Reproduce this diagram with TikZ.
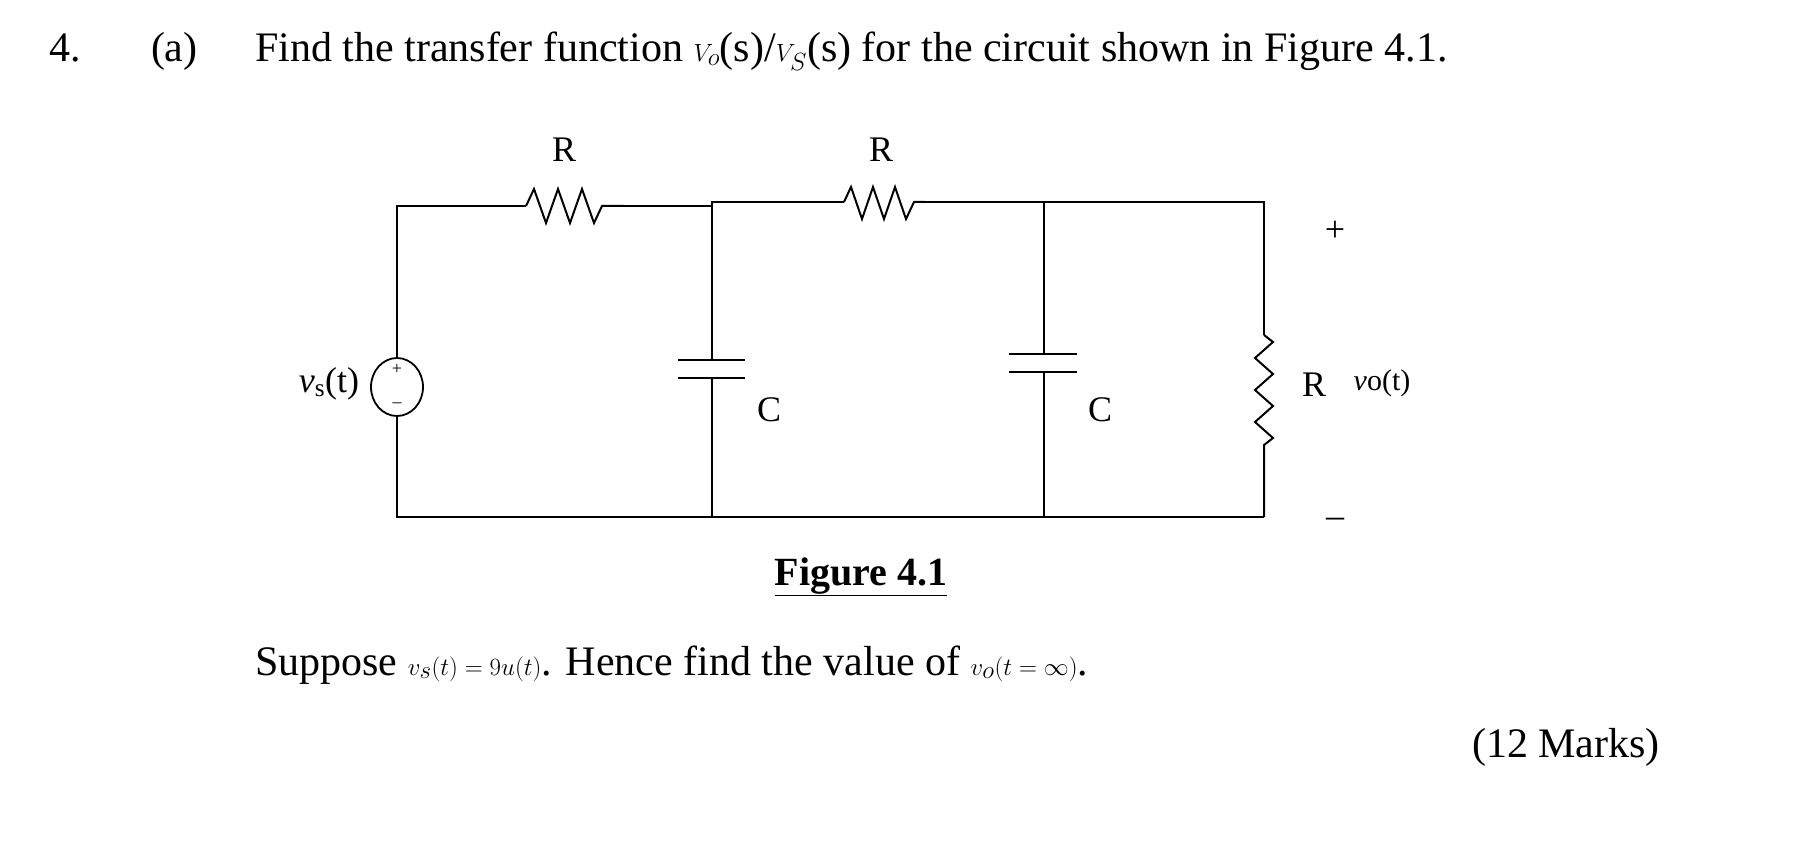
\documentclass[tikz,border=0pt]{standalone}
\usepackage{fontspec}
\setmainfont{Liberation Serif}
\usetikzlibrary{shapes.geometric}
\DeclareMathSizes{42}{42}{29}{22}
\begin{document}
\begin{tikzpicture}[x=1pt,y=-1pt,line width=2pt,
  txt/.style={inner sep=0pt,font=\fontsize{42}{48}\selectfont},
  lbl/.style={inner sep=0pt,font=\fontsize{36}{42}\selectfont}]
\useasboundingbox (0,0) rectangle (1804,842);
% texts
\node[txt,anchor=base west] (n4) at (48,62) {4.};
\node[txt,anchor=base west] (na) at (150,62) {(a)};
\node[txt,anchor=base west] (t1) at (254,62) {Find the transfer function $V_o$(s)/$V_S$(s) for the circuit shown in Figure 4.1.};
\node[txt,anchor=base,font=\fontsize{40}{46}\selectfont\bfseries] (fig) at (861,585) {\underline{Figure 4.1}};
\node[txt,anchor=base west] (sup) at (254,675) {Suppose $v_s(t)=9u(t)$. Hence find the value of $v_o(t=\infty)$.};
\node[txt,anchor=base] (mk) at (1566,757) {(12 Marks)};
% labels
\node[lbl] (r1l) at (564,150) {R};
\node[lbl] (r2l) at (881,150) {R};
\node[lbl] (c1l) at (769,410) {C};
\node[lbl] (c2l) at (1100,410) {C};
\node[lbl] (r3l) at (1314,385) {R};
\node[lbl] (vol) at (1382,383) {\fontsize{30}{36}\selectfont\textit{v}o(t)};
\node[lbl] (pl) at (1335,231) {+};
\node[lbl] (mi) at (1335,523) {--};
\node[lbl] (vsl) at (329,384) {\textit{v}\textsubscript{s}(t)};
% source
\node[draw,ellipse,minimum width=52,minimum height=58,inner sep=0pt,line width=1.8pt] (src) at (397,387) {};
\node[inner sep=0pt,font=\fontsize{18}{20}\selectfont] (sp) at (397,369) {+};
\node[inner sep=0pt,font=\fontsize{18}{20}\selectfont] (sm) at (397,405) {--};
% wiring coordinates
\coordinate (tl) at (397,206);
\coordinate (r1a) at (526,206);
\coordinate (r1b) at (624,206);
\coordinate (n1) at (712,206);
\coordinate (r2a) at (844,202);
\coordinate (r2b) at (925,202);
\coordinate (n2) at (1044,202);
\coordinate (tr) at (1264,202);
\coordinate (bl) at (397,517);
\coordinate (b1) at (712,517);
\coordinate (b2) at (1044,517);
\coordinate (br) at (1264,517);
\draw (src.north) -- (tl) -- (r1a);
\draw (r1a) -- ++(8,-17) -- ++(12,34) -- ++(12,-34) -- ++(12,34) -- ++(12,-34) -- ++(12,34) -- ++(8,-17) -- (r1b);
\draw (r1b) -- (n1) -- (712,202) -- (r2a);
\draw (r2a) -- ++(7,-15) -- ++(11,32) -- ++(11,-32) -- ++(11,32) -- ++(11,-32) -- ++(11,32) -- ++(8,-17) -- (r2b);
\draw (r2b) -- (n2) -- (tr) -- (1264,335);
\draw (1264,335) -- ++(9,7) -- ++(-18,16) -- ++(18,16) -- ++(-18,16) -- ++(18,16) -- ++(-18,16) -- ++(18,16) -- ++(-9,7) -- (br);
\draw (src.south) -- (bl) -- (b1) -- (b2) -- (br);
% capacitors
\draw (n1) -- (712,360) (678,360) -- (745,360) (678,378) -- (745,378) (712,378) -- (b1);
\draw (n2) -- (1044,354) (1009,354) -- (1077,354) (1009,372) -- (1077,372) (1044,372) -- (b2);
\end{tikzpicture}
\end{document}
